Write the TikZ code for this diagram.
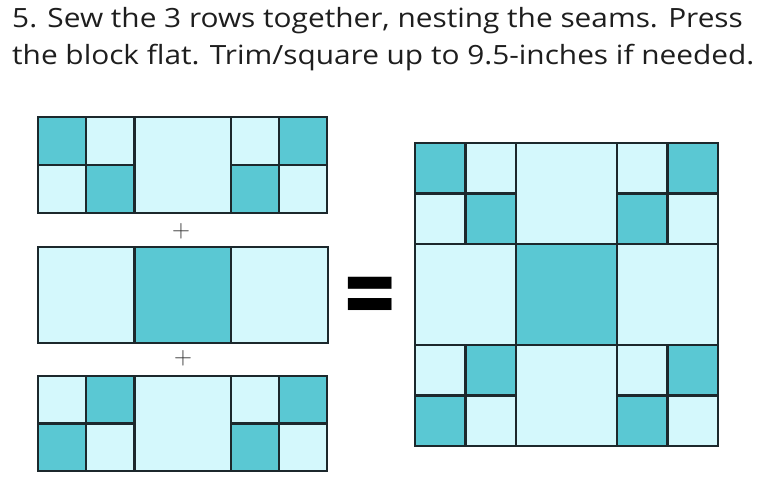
\documentclass[tikz,border=0pt]{standalone}
\usepackage{fontspec}
\setmainfont{Open Sans}
\newfontfamily\titlefont[FakeStretch=1.125]{Open Sans}
\definecolor{dk}{RGB}{90,200,211}
\definecolor{lt}{RGB}{212,248,252}
\definecolor{edge}{RGB}{28,40,44}
\definecolor{txt}{RGB}{30,30,30}
\begin{document}
\begin{tikzpicture}[x=1pt,y=-1pt,
  cell/.style={draw=edge,line width=2.4pt,line join=miter},
  title/.style={anchor=base west,inner sep=0pt,text=txt,font=\titlefont\fontsize{26.5}{30}\selectfont},
  plus/.style={text=black!80,font=\fontsize{32}{32}\selectfont,inner sep=0pt},
  eq/.style={text=black,font=\fontsize{90}{90}\selectfont\bfseries,inner sep=0pt,yscale=1.25}]
\path[fill=white] (0,0) rectangle (768,494);
\useasboundingbox (0,0) rectangle (768,494);

\node[title] (t1) at (12,28) {5. Sew the 3 rows together, nesting the seams. Press};
\node[title] (t2) at (12,65) {the block flat. Trim/square up to 9.5-inches if needed.};

% top band (left)
\begin{scope}[shift={(38,117)},x=48.2pt,y=-48pt]
  \foreach \i/\j/\c in {0/0/dk,1/0/lt,4/0/lt,5/0/dk,0/1/lt,1/1/dk,4/1/dk,5/1/lt}
    \draw[cell,fill=\c] (\i,\j) rectangle ++(1,1);
  \draw[cell,fill=lt] (2,0) rectangle (4,2);
\end{scope}
% middle row (left)
\begin{scope}[shift={(38,247)},x=48.3pt,y=-48pt]
  \draw[cell,fill=lt] (0,0) rectangle (2,2);
  \draw[cell,fill=dk] (2,0) rectangle (4,2);
  \draw[cell,fill=lt] (4,0) rectangle (6,2);
\end{scope}
% bottom band (left)
\begin{scope}[shift={(38,376)},x=48.2pt,y=-47.5pt]
  \foreach \i/\j/\c in {0/0/lt,1/0/dk,4/0/lt,5/0/dk,0/1/dk,1/1/lt,4/1/dk,5/1/lt}
    \draw[cell,fill=\c] (\i,\j) rectangle ++(1,1);
  \draw[cell,fill=lt] (2,0) rectangle (4,2);
\end{scope}

% finished block (right)
\begin{scope}[shift={(415,143)},x=50.5pt,y=-50.5pt]
  \foreach \i/\j/\c in {0/0/dk,1/0/lt,4/0/lt,5/0/dk,0/1/lt,1/1/dk,4/1/dk,5/1/lt,
                        0/4/lt,1/4/dk,4/4/lt,5/4/dk,0/5/dk,1/5/lt,4/5/dk,5/5/lt}
    \draw[cell,fill=\c] (\i,\j) rectangle ++(1,1);
  \draw[cell,fill=lt] (2,0) rectangle (4,2);
  \draw[cell,fill=lt] (0,2) rectangle (2,4);
  \draw[cell,fill=dk] (2,2) rectangle (4,4);
  \draw[cell,fill=lt] (4,2) rectangle (6,4);
  \draw[cell,fill=lt] (2,4) rectangle (4,6);
\end{scope}

\node[plus] (p1) at (181,231) {$+$};
\node[plus] (p2) at (183,358) {$+$};
\node[eq] (eq) at (370,305) {=};
\end{tikzpicture}
\end{document}
